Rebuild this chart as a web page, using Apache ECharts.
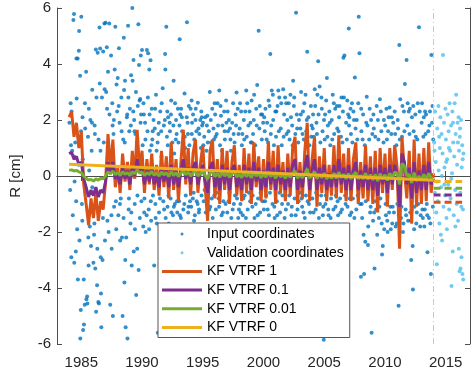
<!DOCTYPE html>
<html>
<head>
<meta charset="utf-8">
<script src="https://cdn.jsdelivr.net/npm/echarts@6/dist/echarts.min.js"></script>
<style>
html,body{margin:0;padding:0;background:#fff;}
#chart{width:474px;height:370px;}
</style>
</head>
<body>
<div id="chart"></div>
<script>
// ---------- data ----------
const xTicks = [1985, 1990, 1995, 2000, 2005, 2010, 2015];
const splitYear = 2014;

// Input coordinates [year, R cm]
const inputPts = [
[1984.02,1.9],[1984.08,-0.5],[1984.12,2.6],[1984.18,-2.9],[1984.2,2.3],[1984.25,0.9],[1984.3,-1.4],[1984.35,5.57],[1984.4,5.79],[1984.42,-3.1],[1984.45,-0.2],[1984.5,1.2],[1984.55,-2.7],[1984.6,4.2],[1984.62,2.77],[1984.66,-1.9],[1984.7,4.2],[1984.72,-3.7],[1984.78,0.4],[1984.8,4.47],[1984.82,5.18],[1984.85,-2.3],[1984.9,3.58],[1984.92,-5.8],[1984.96,-4.79],[1984.98,1.6],
[1984.15,1.1],[1984.38,0.7],[1984.58,-0.9],[1984.75,1.4],
[1985.0,5.69],[1985.05,-1.0],[1985.1,2.1],[1985.15,-5.5],[1985.2,-3.7],[1985.22,-5.3],[1985.28,-4.6],[1985.3,2.6],[1985.35,-0.6],[1985.4,3.72],[1985.42,-4.4],[1985.48,-4.3],[1985.5,-4.55],[1985.55,1.4],[1985.6,-3.2],[1985.62,2.4],[1985.7,-1.8],[1985.75,2.0],[1985.8,-2.5],[1985.85,0.9],[1985.9,3.08],[1985.95,-1.3],
[1985.12,0.6],[1985.65,0.2],[1985.9,-0.4],[1985.08,-1.6],[1985.32,1.7],[1985.58,-2.2],[1985.88,1.9],
[1986.0,-3.1],[1986.05,-2.1],[1986.1,1.8],[1986.15,-3.3],[1986.2,4.52],[1986.22,-4.85],[1986.25,2.8],[1986.3,-3.9],[1986.32,-2.6],[1986.35,4.4],[1986.4,-4.5],[1986.45,-4.55],[1986.5,5.3],[1986.52,3.3],[1986.55,4.55],[1986.6,-2.9],[1986.62,-4.2],[1986.65,-5.4],[1986.7,2.8],[1986.75,-3.0],[1986.8,4.45],[1986.85,1.2],[1986.9,5.45],[1986.92,3.1],[1986.95,-2.3],
[1986.12,1.5],[1986.58,0.9],[1986.08,-1.7],[1986.42,1.3],[1986.78,-1.5],
[1987.0,5.47],[1987.05,3.0],[1987.1,4.6],[1987.15,-1.6],[1987.2,3.72],[1987.25,-2.0],[1987.3,5.45],[1987.32,2.2],[1987.38,-4.6],[1987.4,0.8],[1987.45,4.3],[1987.5,-2.6],[1987.55,2.6],[1987.6,-5.0],[1987.65,1.5],[1987.7,-1.1],[1987.75,3.8],[1987.8,5.33],[1987.85,-0.9],[1987.9,3.27],[1987.95,2.3],
[1987.12,2.4],[1987.58,1.8],[1987.88,-1.9],[1987.22,1.1],[1987.48,-1.4],[1987.68,2.0],
[1988.0,3.5],[1988.05,-1.4],[1988.1,4.56],[1988.15,1.9],[1988.2,-2.3],[1988.25,-0.8],[1988.3,2.8],[1988.35,-2.2],[1988.4,-5.0],[1988.45,1.3],[1988.5,4.94],[1988.52,3.07],[1988.55,-3.8],[1988.6,3.4],[1988.62,-3.0],[1988.65,-5.4],[1988.7,-2.2],[1988.75,2.1],[1988.8,-5.8],[1988.85,5.37],[1988.9,-1.2],[1988.95,1.6],
[1988.08,2.5],[1988.32,1.6],[1988.48,-1.5],[1988.78,2.2],[1988.92,-0.8],[1988.18,-1.0],[1988.58,1.2],[1988.88,2.8],
[1989.0,2.4],[1989.05,-1.7],[1989.1,3.6],[1989.15,-3.2],[1989.2,6.0],[1989.22,3.4],[1989.3,4.14],[1989.32,-2.7],[1989.35,2.0],[1989.4,-1.0],[1989.45,1.5],[1989.5,3.0],[1989.52,-4.25],[1989.6,-2.6],[1989.65,2.5],[1989.7,5.42],[1989.72,-3.36],[1989.75,3.96],[1989.8,2.7],[1989.82,-1.5],[1989.85,2.75],[1989.9,4.3],[1989.95,-0.9],
[1989.08,1.8],[1989.28,2.3],[1989.42,-1.9],[1989.58,1.2],[1989.88,1.9],[1989.12,-1.3],[1989.38,1.6],[1989.62,-0.7],[1989.92,2.2],
[1990.0,4.5],[1990.05,1.1],[1990.1,-1.8],[1990.15,2.2],[1990.2,-0.8],[1990.25,1.9],[1990.3,-2.0],[1990.4,4.5],[1990.45,1.6],[1990.5,4.38],[1990.55,-1.2],[1990.6,3.8],[1990.65,0.9],[1990.7,4.13],[1990.75,-1.6],[1990.8,2.4],[1990.85,1.3],[1990.9,-0.7],[1990.95,2.0],
[1990.12,2.6],[1990.28,1.3],[1990.38,-1.4],[1990.62,2.2],[1990.72,-0.9],[1990.88,1.6],[1990.18,-1.3],[1990.48,2.8],[1990.58,-1.9],[1990.78,1.1],
[1991.0,-3.2],[1991.05,1.7],[1991.1,-1.0],[1991.15,2.9],[1991.2,0.9],[1991.3,-5.6],[1991.35,1.5],[1991.4,-1.3],[1991.5,2.3],[1991.55,-2.3],[1991.6,0.7],[1991.7,3.13],[1991.75,-0.9],[1991.8,1.8],[1991.9,4.36],[1991.92,3.8],[1991.95,-1.5],
[1991.08,2.4],[1991.22,-1.7],[1991.38,1.9],[1991.48,-0.8],[1991.62,2.6],[1991.82,-1.2],[1991.88,2.0],[1991.12,-1.5],[1991.28,1.2],[1991.58,1.6],[1991.78,-1.8],
[1992.0,5.33],[1992.05,1.4],[1992.1,-1.1],[1992.15,2.1],[1992.2,-1.7],[1992.3,1.6],[1992.35,-0.8],[1992.4,2.7],[1992.5,1.2],[1992.55,-1.4],[1992.6,3.4],[1992.65,0.8],[1992.7,-1.0],[1992.8,2.0],[1992.85,1.5],[1992.9,-1.3],[1992.95,2.4],
[1992.08,2.3],[1992.18,-0.7],[1992.28,1.9],[1992.42,-1.3],[1992.58,1.8],[1992.72,2.6],[1992.88,-0.9],[1992.12,1.1],[1992.38,2.2],[1992.62,-1.1],[1992.78,1.3],
[1993.0,1.2],[1993.05,-0.9],[1993.1,4.88],[1993.15,2.2],[1993.2,-1.5],[1993.3,1.6],[1993.4,-1.2],[1993.5,2.95],[1993.55,1.0],[1993.6,-0.7],[1993.7,5.49],[1993.75,1.9],[1993.8,-1.3],[1993.85,2.5],[1993.9,1.1],[1993.95,-0.9],
[1993.08,1.8],[1993.22,2.4],[1993.38,-1.8],[1993.52,1.4],[1993.68,2.1],[1993.82,-1.1],[1993.12,-1.4],[1993.28,2.1],[1993.48,-1.0],[1993.78,1.5],
[1994.0,2.4],[1994.05,-1.1],[1994.1,1.5],[1994.2,2.2],[1994.25,-0.6],[1994.3,1.3],[1994.35,-1.4],[1994.4,2.0],[1994.5,-0.9],[1994.6,2.62],[1994.65,1.7],[1994.7,-1.2],[1994.8,2.0],[1994.85,1.0],[1994.9,-0.7],[1994.95,1.8],
[1994.12,1.9],[1994.28,-1.6],[1994.42,2.4],[1994.58,-1.0],[1994.72,1.5],[1994.88,2.3],[1994.08,2.7],[1994.18,-0.8],[1994.48,1.6],[1994.68,-1.3],[1994.92,2.1],
[1995.02,1.9],[1995.08,-0.9],[1995.12,1.4],[1995.2,2.1],[1995.25,-1.3],[1995.3,0.9],[1995.38,2.15],[1995.45,-0.6],[1995.5,1.6],[1995.58,3.0],[1995.62,-1.1],[1995.7,1.2],[1995.78,2.4],[1995.82,-1.5],[1995.88,1.7],[1995.95,-0.7],
[1995.05,1.1],[1995.15,-0.5],[1995.34,1.8],[1995.42,1.2],[1995.54,-1.2],[1995.66,2.0],[1995.74,-0.8],[1995.92,1.3],[1995.98,2.6],
[1996.02,2.2],[1996.08,-1.2],[1996.15,1.5],[1996.22,2.6],[1996.3,-0.8],[1996.36,3.05],[1996.42,1.1],[1996.5,2.15],[1996.55,-1.4],[1996.62,1.8],[1996.7,-0.9],[1996.76,2.3],[1996.82,1.3],[1996.88,-1.0],[1996.95,1.9],
[1996.05,1.4],[1996.12,-0.6],[1996.26,1.8],[1996.34,-1.1],[1996.46,2.5],[1996.58,0.9],[1996.66,-1.3],[1996.8,1.6],[1996.92,2.7],
[1997.02,-1.3],[1997.08,1.6],[1997.15,2.0],[1997.2,-0.6],[1997.28,1.3],[1997.35,-1.5],[1997.42,1.9],[1997.5,2.6],[1997.56,-1.0],[1997.62,1.2],[1997.7,2.2],[1997.78,2.98],[1997.82,-0.8],[1997.88,2.4],[1997.94,1.5],[1997.98,-1.2],
[1997.05,2.3],[1997.12,-0.9],[1997.24,1.7],[1997.32,0.9],[1997.46,-1.2],[1997.54,1.5],[1997.66,-0.7],[1997.74,1.8],[1997.92,-1.5],
[1998.04,1.7],[1998.1,-1.0],[1998.16,2.3],[1998.22,1.1],[1998.3,-1.4],[1998.38,2.0],[1998.45,-0.7],[1998.5,2.3],[1998.58,3.05],[1998.62,1.4],[1998.7,-1.2],[1998.76,1.8],[1998.85,2.3],[1998.9,-0.9],[1998.96,1.2],
[1998.07,2.6],[1998.13,-1.3],[1998.26,1.5],[1998.34,-0.8],[1998.42,1.3],[1998.55,-1.5],[1998.66,2.6],[1998.8,-0.6],[1998.93,1.9],
[1999.02,2.7],[1999.08,-1.1],[1999.14,1.5],[1999.2,2.0],[1999.26,-1.5],[1999.32,1.1],[1999.4,2.4],[1999.48,3.25],[1999.55,-0.8],[1999.6,5.19],[1999.66,1.7],[1999.72,-1.3],[1999.8,2.2],[1999.86,1.3],[1999.92,-0.9],[1999.97,1.9],
[1999.05,1.2],[1999.11,-0.7],[1999.23,2.9],[1999.36,-1.0],[1999.44,1.8],[1999.52,-1.4],[1999.69,2.5],[1999.76,-0.6],[1999.89,2.2],
[2000.03,-1.2],[2000.1,1.6],[2000.16,2.4],[2000.22,-0.7],[2000.3,1.9],[2000.38,1.2],[2000.45,-1.4],[2000.5,2.5],[2000.56,4.36],[2000.6,1.5],[2000.68,3.05],[2000.74,-1.0],[2000.8,2.0],[2000.86,1.1],[2000.92,-1.5],[2000.97,2.3],
[2000.06,2.1],[2000.13,-0.9],[2000.26,1.3],[2000.34,-1.2],[2000.42,2.7],[2000.53,-0.6],[2000.64,1.8],[2000.77,2.9],[2000.89,-1.1],
[2001.03,1.4],[2001.1,-0.9],[2001.16,2.5],[2001.22,3.05],[2001.3,2.8],[2001.36,-1.3],[2001.42,1.7],[2001.5,1.1],[2001.56,-0.7],[2001.62,3.1],[2001.7,2.2],[2001.78,2.8],[2001.84,-1.2],[2001.9,1.5],[2001.96,2.0],
[2001.06,2.3],[2001.13,-1.4],[2001.26,1.6],[2001.33,-0.6],[2001.46,2.6],[2001.53,-1.0],[2001.66,1.4],[2001.74,-1.5],[2001.87,2.6],
[2002.02,-1.0],[2002.08,2.6],[2002.15,1.3],[2002.22,2.9],[2002.3,-1.4],[2002.36,1.8],[2002.44,3.4],[2002.5,2.5],[2002.56,-0.8],[2002.62,1.5],[2002.68,5.83],[2002.74,2.2],[2002.8,-1.2],[2002.86,1.2],[2002.92,2.0],[2002.97,-0.6],
[2002.05,1.6],[2002.12,-0.7],[2002.26,2.1],[2002.33,-1.1],[2002.4,1.1],[2002.53,2.8],[2002.65,-1.4],[2002.77,1.7],[2002.89,-0.9],
[2003.04,1.7],[2003.1,3.0],[2003.18,-1.1],[2003.25,2.3],[2003.32,1.3],[2003.4,-1.5],[2003.46,2.9],[2003.52,1.6],[2003.6,4.44],[2003.64,-0.9],[2003.7,2.1],[2003.78,1.1],[2003.84,-1.3],[2003.9,2.5],[2003.96,1.8],
[2003.07,2.2],[2003.14,-0.8],[2003.21,1.5],[2003.29,-1.3],[2003.36,2.6],[2003.49,-0.7],[2003.56,2.0],[2003.74,-1.0],[2003.93,1.4],
[2004.02,-0.8],[2004.08,2.2],[2004.15,1.4],[2004.22,3.1],[2004.3,-1.2],[2004.36,1.9],[2004.44,2.9],[2004.5,4.1],[2004.56,-1.5],[2004.62,3.2],[2004.68,1.2],[2004.74,-0.7],[2004.8,2.4],[2004.86,1.6],[2004.92,-1.1],[2004.96,-5.85],[2004.98,2.0],
[2004.05,1.7],[2004.12,-1.3],[2004.26,2.5],[2004.33,-0.6],[2004.4,1.5],[2004.53,2.2],[2004.65,-1.0],[2004.77,2.8],[2004.89,-1.4],
[2005.04,1.3],[2005.1,-1.0],[2005.16,2.7],[2005.22,3.5],[2005.3,1.8],[2005.36,-1.4],[2005.42,2.3],[2005.5,1.1],[2005.56,-0.8],[2005.62,2.0],[2005.7,2.9],[2005.76,-1.2],[2005.82,1.5],[2005.9,2.4],[2005.96,-0.7],
[2005.07,2.2],[2005.13,-0.7],[2005.26,1.4],[2005.33,-1.2],[2005.46,1.9],[2005.53,-1.5],[2005.66,1.3],[2005.79,2.6],[2005.93,-1.1],
[2006.04,2.5],[2006.1,-0.9],[2006.18,1.6],[2006.26,2.5],[2006.34,-1.3],[2006.42,2.8],[2006.5,1.2],[2006.58,4.22],[2006.62,2.8],[2006.66,4.3],[2006.72,-0.7],[2006.8,1.9],[2006.86,1.3],[2006.92,-1.1],[2006.97,2.2],
[2006.07,1.7],[2006.14,-1.4],[2006.22,2.1],[2006.3,-0.8],[2006.38,1.4],[2006.46,-1.2],[2006.54,2.3],[2006.76,-1.0],[2006.9,2.7],
[2007.02,5.27],[2007.06,2.1],[2007.12,-1.4],[2007.2,1.5],[2007.28,2.6],[2007.36,-0.8],[2007.45,2.0],[2007.52,3.52],[2007.58,1.7],[2007.64,-1.2],[2007.72,1.3],[2007.8,2.6],[2007.84,5.69],[2007.9,4.38],[2007.95,-1.0],
[2007.04,1.8],[2007.09,-0.8],[2007.16,2.4],[2007.24,-1.3],[2007.32,1.2],[2007.4,2.3],[2007.48,-1.5],[2007.68,2.0],[2007.76,-0.7],
[2008.02,-3.6],[2008.06,1.6],[2008.12,-1.5],[2008.2,2.2],[2008.28,-3.5],[2008.34,1.1],[2008.42,-0.9],[2008.5,2.83],[2008.56,1.8],[2008.62,-1.8],[2008.7,1.3],[2008.78,-1.3],[2008.86,2.0],[2008.9,-5.6],[2008.96,1.5],
[2008.04,2.4],[2008.09,-1.0],[2008.16,1.3],[2008.24,-2.1],[2008.38,-2.35],[2008.46,1.9],[2008.6,-2.46],[2008.74,2.4],[2008.82,-1.1],
[2009.02,-1.6],[2009.08,1.7],[2009.14,-3.3],[2009.2,1.4],[2009.28,-1.2],[2009.36,-2.1],[2009.42,2.0],[2009.5,-1.5],[2009.58,2.74],[2009.62,-0.8],[2009.7,1.6],[2009.76,-2.8],[2009.82,-2.5],[2009.88,1.2],[2009.94,-1.9],
[2009.05,2.2],[2009.11,-1.3],[2009.24,-0.9],[2009.32,2.5],[2009.46,1.3],[2009.54,-1.1],[2009.66,2.3],[2009.73,-1.7],[2009.91,2.0],
[2010.02,1.8],[2010.08,-1.4],[2010.16,1.3],[2010.22,-2.0],[2010.3,2.1],[2010.38,2.45],[2010.44,-1.1],[2010.52,1.5],[2010.6,-1.7],[2010.68,1.9],[2010.74,-1.3],[2010.8,2.3],[2010.88,-1.8],[2010.94,1.1],
[2010.05,-1.0],[2010.12,2.4],[2010.19,-1.6],[2010.26,1.6],[2010.34,-1.3],[2010.48,-1.9],[2010.56,2.1],[2010.64,-1.1],[2010.84,1.5],[2010.97,-1.7],
[2011.02,-1.0],[2011.08,1.7],[2011.12,-4.63],[2011.18,4.68],[2011.26,2.74],[2011.32,-1.5],[2011.4,1.4],[2011.48,-2.0],[2011.56,2.3],[2011.64,3.29],[2011.7,-1.2],[2011.78,4.14],[2011.84,1.8],[2011.9,-1.6],[2011.96,2.3],
[2011.05,2.0],[2011.15,-1.4],[2011.22,1.3],[2011.36,-1.1],[2011.44,2.5],[2011.52,-1.7],[2011.6,1.6],[2011.74,-1.4],[2011.87,2.6],
[2012.02,1.5],[2012.08,-1.3],[2012.16,-3.0],[2012.22,2.1],[2012.28,-2.5],[2012.3,-4.05],[2012.36,1.6],[2012.44,-1.1],[2012.5,2.2],[2012.58,-1.7],[2012.66,1.3],[2012.74,-1.0],[2012.8,5.31],[2012.86,2.3],[2012.94,-1.4],
[2012.05,2.4],[2012.12,-1.6],[2012.2,-1.2],[2012.33,2.5],[2012.4,-1.9],[2012.54,1.4],[2012.62,-1.3],[2012.7,2.6],[2012.9,-1.8],
[2013.02,1.9],[2013.08,-1.2],[2013.16,1.4],[2013.24,-1.8],[2013.3,2.3],[2013.38,2.2],[2013.44,-1.0],[2013.5,-2.72],[2013.56,1.6],[2013.62,-1.5],[2013.7,2.3],[2013.78,-3.5],[2013.82,4.32],[2013.88,1.9],[2013.94,-1.1],
[2013.05,2.6],[2013.12,-1.5],[2013.2,2.1],[2013.28,-1.2],[2013.34,1.5],[2013.48,-1.4],[2013.66,1.8],[2013.74,-1.7],[2013.91,2.5],[2013.97,1.3]
];

// Validation coordinates [year, R cm]
const validPts = [
[2014.05,1.2],[2014.1,-0.6],[2014.12,2.3],[2014.18,0.5],[2014.22,-1.3],[2014.27,-3.15],[2014.3,1.7],[2014.35,-0.9],[2014.4,2.5],[2014.42,0.2],[2014.48,-1.7],[2014.52,1.0],[2014.56,2.1],[2014.6,-2.1],[2014.62,-0.4],[2014.66,1.5],[2014.7,-2.3],[2014.74,0.8],[2014.78,4.32],[2014.82,-1.1],[2014.86,1.9],[2014.9,0.3],[2014.94,-0.7],[2014.98,2.4],
[2015.02,1.3],[2015.06,-1.5],[2015.1,-1.9],[2015.12,0.6],[2015.16,2.2],[2015.2,-0.3],[2015.24,1.6],[2015.28,-1.2],[2015.32,2.6],[2015.36,0.9],[2015.4,-0.8],[2015.44,1.8],[2015.48,-3.93],[2015.52,0.1],[2015.55,2.3],[2015.58,-2.7],[2015.62,1.2],[2015.66,-1.4],[2015.7,0.7],[2015.74,2.6],[2015.78,-0.5],[2015.82,1.5],[2015.86,2.9],[2015.9,-1.0],[2015.94,0.4],[2015.98,1.9],
[2016.02,-1.6],[2016.06,2.1],[2016.08,-2.6],[2016.1,0.9],[2016.14,-3.4],[2016.16,1.4],[2016.2,-0.6],[2016.22,-3.3],[2016.26,2.0],[2016.3,-2.9],[2016.32,0.3],[2016.36,1.1],[2016.38,-3.5],[2016.42,-1.2],[2016.44,-3.7],[2016.46,0.8],
[2014.08,0.9],[2014.28,-0.2],[2014.46,1.4],[2014.68,0.0],[2014.88,-0.3],[2015.04,0.5],[2015.26,1.0],[2015.46,-0.1],[2015.6,1.9],[2015.8,-1.8],[2016.0,1.2],[2016.18,1.7],[2016.28,-1.1],[2016.4,0.6]
];

// Kalman filter estimates, sampled every kfStep years from kfStart
const kfStart = 1984.0;
const kfStep = 0.2;
const kf1 = [
 2.1, 2.3, 1.4, 1.9, 1.0,   1.6,-0.3,-1.0,-1.75,-0.8,   -1.5,-0.6,-1.6,-0.9,-1.2,   -0.2, 1.5, 0.2, 1.3,-0.4,
 0.3,-0.6, 0.8,-0.2, 0.5,   -0.5, 0.9,-0.1, 1.65, 0.2,   0.9,-0.6, 0.6,-0.3, 0.8,   -0.5, 0.4,-0.7, 0.9,-0.4,
 0.7,-0.8, 1.2,-0.5, 0.6,   -0.9, 0.5, 1.65,-0.3, 1.0,   -0.7, 0.8, 1.3,-0.6, 0.4,   1.1,-0.4,-1.6, 0.9, 1.3,
 -0.8, 0.6,-1.0, 1.0,-0.5,  0.9,-1.0, 0.5, 1.1,-0.7,    0.4,-0.9, 1.0,-0.6, 0.8,   -1.0, 1.2,-0.4, 0.7,-0.9,
 0.6,-0.8, 1.2,-0.5, 0.9,   -1.0, 1.1,-0.6, 0.5,-0.9,   0.8,-0.7, 1.0, 1.4,-1.0,   0.5,-0.8, 0.9, 1.9,-0.9,
 0.6, 1.4,-1.1, 0.7,-0.6,   1.0,-0.9, 0.4,-0.7, 1.1,    -0.8, 1.45,-0.6, 0.8,-0.9, 1.0,-0.9, 0.6, 1.2,-1.0,
 0.5,-0.8, 1.1,-0.9, 0.7,   -1.0, 0.9,-1.3, 1.0,-0.6,   0.8,-1.1, 1.0,-0.5, 1.1,   0.3,-2.6, 1.4, 0.2,-0.8,
 0.9,-1.7, 1.3,-1.1, 0.8,   -1.0, 1.0,-0.9, 1.2,-0.6,   0.1
];
const kf01 = [
 0.8, 0.85, 0.6, 0.7, 0.4,  0.5,-0.1,-0.4,-0.75,-0.5,   -0.7,-0.4,-0.75,-0.5,-0.6,  -0.2, 0.5, 0.1, 0.5,-0.1,
 0.1,-0.3, 0.3,-0.1, 0.2,   -0.3, 0.3, 0.0, 0.6, 0.1,   0.3,-0.3, 0.2,-0.2, 0.3,   -0.3, 0.1,-0.4, 0.3,-0.2,
 0.2,-0.4, 0.4,-0.3, 0.2,   -0.4, 0.2, 0.6,-0.1, 0.3,   -0.3, 0.3, 0.5,-0.3, 0.1,   0.4,-0.2,-0.6, 0.3, 0.5,
 -0.4, 0.2,-0.5, 0.4,-0.3,  0.3,-0.5, 0.2, 0.4,-0.4,    0.1,-0.5, 0.4,-0.3, 0.3,   -0.5, 0.5,-0.2, 0.3,-0.5,
 0.2,-0.4, 0.5,-0.3, 0.3,   -0.5, 0.4,-0.3, 0.2,-0.5,   0.3,-0.4, 0.4, 0.6,-0.5,   0.2,-0.4, 0.3, 0.75,-0.5,
 0.2, 0.6,-0.5, 0.3,-0.3,   0.4,-0.5, 0.1,-0.4, 0.4,    -0.4, 0.6,-0.3, 0.3,-0.5,  0.4,-0.5, 0.2, 0.5,-0.5,
 0.2,-0.4, 0.4,-0.5, 0.3,   -0.5, 0.3,-0.7, 0.4,-0.3,   0.3,-0.6, 0.4,-0.3, 0.4,   0.1,-1.1, 0.8, 0.5,-0.3,
 0.3,-0.8, 0.5,-0.6, 0.2,   -0.5, 0.4,-0.5, 0.5,-0.3,   -0.1
];
const kf001 = [
 0.2, 0.22, 0.18, 0.2, 0.15,  0.12, 0.0,-0.08,-0.15,-0.12,  -0.18,-0.1,-0.15,-0.08,-0.1,  0.0, 0.15, 0.08, 0.18, 0.05,
 0.12, 0.02, 0.15, 0.06, 0.12,  0.02, 0.15, 0.08, 0.22, 0.1,  0.15, 0.02, 0.12, 0.05, 0.16,  0.03, 0.1, 0.0, 0.14, 0.04,
 0.12,-0.02, 0.16, 0.02, 0.12,  -0.02, 0.1, 0.22, 0.04, 0.14,  0.0, 0.12, 0.2, 0.0, 0.1,  0.16, 0.02,-0.1, 0.1, 0.18,
 -0.02, 0.1,-0.04, 0.14, 0.0,  0.12,-0.05, 0.08, 0.15,-0.03,  0.06,-0.06, 0.12,-0.02, 0.1,  -0.06, 0.14, 0.0, 0.1,-0.06,
 0.08,-0.04, 0.14,-0.02, 0.1,  -0.08, 0.12,-0.03, 0.06,-0.08,  0.08,-0.05, 0.1, 0.18,-0.08,  0.04,-0.06, 0.08, 0.25,-0.08,
 0.04, 0.16,-0.1, 0.06,-0.06,  0.1,-0.1, 0.02,-0.08, 0.1,  -0.08, 0.14,-0.06, 0.06,-0.1,  0.08,-0.1, 0.04, 0.12,-0.1,
 0.02,-0.1, 0.1,-0.12, 0.05,  -0.14, 0.06,-0.18, 0.08,-0.1,  0.04,-0.16, 0.1,-0.08, 0.14,  0.1,-0.3, 0.45, 0.35, 0.0,
 0.06,-0.25, 0.12,-0.18, 0.0,  -0.16, 0.06,-0.14, 0.1,-0.08,  -0.1
];
// KF VTRF 0: straight trend
const kf0Years = [1984.0, 2014.0];
const kf0 = [0.42, -0.15];

// Predictions over the validation period (constant levels)
const fcYears = [2014.0, 2016.35];
const fc1 = -0.94, fc01 = -0.68, fc001 = -0.44, fc0 = -0.2;

// ---------- chart ----------
const C = {blue:'#0072BD', lblue:'#4DBEEE', orange:'#D95319', purple:'#7E2F8E', green:'#77AC30', yellow:'#EDB120'};
const toPairs = arr => arr.map((v, i) => [kfStart + i * kfStep, v]);
const flat = v => fcYears.map(t => [t, v]);
const FONT = '"Liberation Sans", Arial, Helvetica, sans-serif';
const axisCol = '#4d4d4d', txtCol = '#262626';

function lineSeries(name, data, color, dashed) {
  return {
    name, type: 'line', data, showSymbol: false, symbol: 'none',
    lineStyle: {color, width: 3, type: dashed ? [7, 4] : 'solid'},
    itemStyle: {color}, silent: true, animation: false, z: 3
  };
}

const chart = echarts.init(document.getElementById('chart'), null, {renderer: 'canvas'});
const xCommon = {type: 'value', min: 1983, max: 2017, splitLine: {show: false},
  axisLine: {show: true, lineStyle: {color: axisCol, width: 1}}};
const yCommon = {type: 'value', min: -6, max: 6, interval: 2, splitLine: {show: false},
  axisLine: {show: true, lineStyle: {color: axisCol, width: 1}}};

chart.setOption({
  animation: false,
  textStyle: {fontFamily: FONT},
  grid: {left: 42, right: 4, top: 8, bottom: 26, containLabel: false},
  xAxis: [
    Object.assign({}, xCommon, {position: 'bottom',
      axisTick: {show: true, inside: true, length: 5, customValues: xTicks, lineStyle: {color: axisCol}},
      axisLabel: {show: true, customValues: xTicks, margin: 11, fontSize: 15, color: txtCol, fontFamily: FONT,
        formatter: v => String(Math.round(v))}}),
    Object.assign({}, xCommon, {position: 'top',
      axisTick: {show: true, inside: true, length: 5, customValues: xTicks, lineStyle: {color: axisCol}},
      axisLabel: {show: false}})
  ],
  yAxis: [
    Object.assign({}, yCommon, {position: 'left',
      name: 'R [cm]', nameLocation: 'middle', nameGap: 34, nameRotate: 90,
      nameTextStyle: {fontSize: 15, color: txtCol, fontFamily: FONT},
      axisTick: {show: true, inside: true, length: 5, lineStyle: {color: axisCol}},
      axisLabel: {margin: 6, fontSize: 15, color: txtCol, fontFamily: FONT}}),
    Object.assign({}, yCommon, {position: 'right',
      axisTick: {show: true, inside: true, length: 5, lineStyle: {color: axisCol}},
      axisLabel: {show: false}})
  ],
  legend: {
    orient: 'vertical', left: 158, top: 223,
    backgroundColor: '#fff', borderColor: '#555', borderWidth: 1,
    padding: [4, 6, 3, 4], itemWidth: 40, itemHeight: 3, itemGap: 4.7,
    textStyle: {fontSize: 14, color: '#000', fontFamily: FONT},
    selectedMode: false,
    data: [
      {name: 'Input coordinates', icon: 'circle'},
      {name: 'Validation coordinates', icon: 'circle'},
      {name: 'KF VTRF 1', icon: 'rect'},
      {name: 'KF VTRF 0.1', icon: 'rect'},
      {name: 'KF VTRF 0.01', icon: 'rect'},
      {name: 'KF VTRF 0', icon: 'rect'}
    ]
  },
  series: [
    {name: 'Input coordinates', type: 'scatter', data: inputPts, symbol: 'circle', symbolSize: 4,
     itemStyle: {color: C.blue}, silent: true, z: 2,
     markLine: {silent: true, symbol: 'none', animation: false, label: {show: false},
       lineStyle: {color: '#c8c8c8', width: 1, type: [6, 3, 1, 3]}, data: [{xAxis: splitYear}]}},
    {name: 'Validation coordinates', type: 'scatter', data: validPts, symbol: 'circle', symbolSize: 4,
     itemStyle: {color: C.lblue}, silent: true, z: 2},
    lineSeries('KF VTRF 1', toPairs(kf1), C.orange, false),
    lineSeries('KF VTRF 0.1', toPairs(kf01), C.purple, false),
    lineSeries('KF VTRF 0.01', toPairs(kf001), C.green, false),
    lineSeries('KF VTRF 0', kf0Years.map((t, i) => [t, kf0[i]]), C.yellow, false),
    lineSeries('pred 1', flat(fc1), C.orange, true),
    lineSeries('pred 0.1', flat(fc01), C.purple, true),
    lineSeries('pred 0.01', flat(fc001), C.green, true),
    lineSeries('pred 0', flat(fc0), C.yellow, true)
  ]
});
</script>
</body>
</html>
